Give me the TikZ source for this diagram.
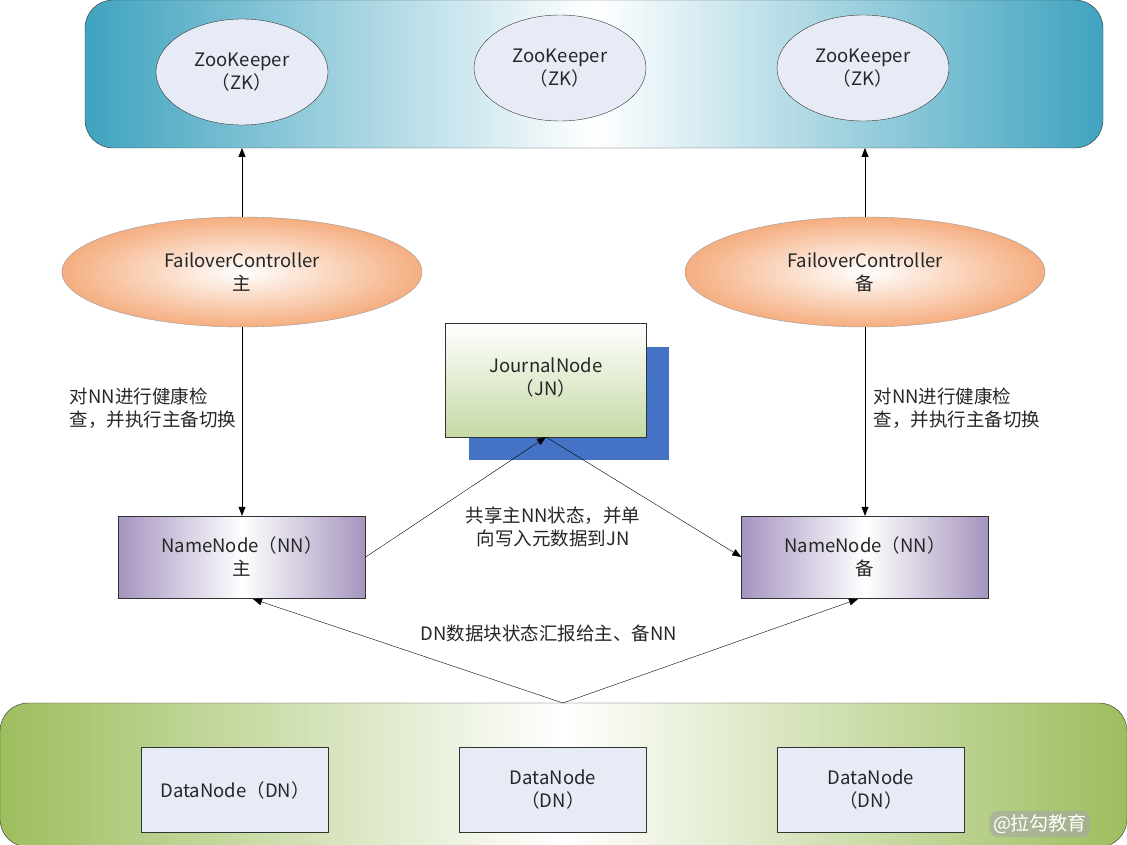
\documentclass[tikz,border=0pt]{standalone}
\usepackage{fontspec}
\setmainfont{Noto Sans CJK SC}
\usetikzlibrary{arrows.meta,shapes.geometric}
\definecolor{teal1}{HTML}{3FA3BF}
\definecolor{zk}{HTML}{E6EBF6}
\definecolor{orng}{HTML}{F5AE80}
\definecolor{purp}{HTML}{A594BF}
\definecolor{grn}{HTML}{9DBE5E}
\definecolor{jn}{HTML}{C5D9A4}
\definecolor{jnb}{HTML}{4472C4}
\begin{document}
\begin{tikzpicture}[x=1pt,y=-1pt,
  txt/.style={font=\fontsize{18.5}{23}\selectfont,align=center,text=black!85},
  zkel/.style={ellipse,draw=black!80,fill=zk,minimum width=172pt,minimum height=106pt,txt},
  fc/.style={ellipse,draw=black!40,inner color=white,outer color=orng,minimum width=360pt,minimum height=110pt,txt},
  nn/.style={draw=black!80,left color=purp,right color=purp,middle color=white,minimum width=247pt,minimum height=82pt,txt},
  dn/.style={draw=black!80,fill=zk,minimum width=187pt,minimum height=85pt,txt},
  arr/.style={-{Triangle[length=9pt,width=7pt]},draw=black}]
\useasboundingbox (0,0) rectangle (1127,845);
% top band
\node[draw=black!80,rounded corners=28pt,left color=teal1,right color=teal1,middle color=white,minimum width=1018pt,minimum height=148pt] (top) at (594,74) {};
\node[zkel] (zk1) at (242,72) {ZooKeeper\\（ZK）};
\node[zkel] (zk2) at (560,68) {ZooKeeper\\（ZK）};
\node[zkel] (zk3) at (863,68) {ZooKeeper\\（ZK）};
% failover
\node[fc] (fc1) at (242,272) {FailoverController\\主};
\node[fc] (fc2) at (865,272) {FailoverController\\备};
\coordinate (t1) at (242,148);
\coordinate (t2) at (865,148);
\draw[arr] (fc1.north) -- (t1);
\draw[arr] (fc2.north) -- (t2);
% namenodes
\node[nn] (nn1) at (242,557) {NameNode（NN）\\主};
\node[nn] (nn2) at (865,557) {NameNode（NN）\\备};
\draw[arr] (fc1.south) -- (nn1.north);
\draw[arr] (fc2.south) -- (nn2.north);
\node[txt,align=left,anchor=east] (l1) at (240,408) {对NN进行健康检\\查，并执行主备切换};
\node[txt,align=left,anchor=west] (l2) at (870,408) {对NN进行健康检\\查，并执行主备切换};
% journal node
\node[fill=jnb,minimum width=200pt,minimum height=113pt] (jnsh) at (569,403) {};
\node[draw=black!80,top color=white,bottom color=jn,minimum width=201pt,minimum height=114pt] (jn) at (546,380) {};
\node[txt] (jnt) at (546,378) {JournalNode\\（JN）};
\coordinate (jb) at (546,437);
\draw[arr] (nn1.east) -- (jb);
\draw[arr] (jb) -- (nn2.west);
\node[txt,fill=white,inner sep=1pt] (l3) at (553,527) {共享主NN状态，并单\\向写入元数据到JN};
% bottom band
\node[draw=black!80,rounded corners=28pt,left color=grn,right color=grn,middle color=white,minimum width=1127pt,minimum height=144pt] (bot) at (563.5,775) {};
\coordinate (bm) at (563,703);
\coordinate (n1b) at (253,599);
\coordinate (n2b) at (858,599);
\draw[arr] (bm) -- (n1b);
\draw[arr] (bm) -- (n2b);
\node[txt] (l4) at (549,633) {DN数据块状态汇报给主、备NN};
\node[dn] (dn1) at (235,790) {DataNode（DN）};
\node[dn] (dn2) at (553,790) {DataNode\\（DN）};
\node[dn] (dn3) at (871,790) {DataNode\\（DN）};
\node[fill=black!35,fill opacity=0.6,text opacity=1,text=white,rounded corners=8pt,font=\fontsize{19}{21}\selectfont] (wm) at (1040,824) {@拉勾教育};
\end{tikzpicture}
\end{document}
